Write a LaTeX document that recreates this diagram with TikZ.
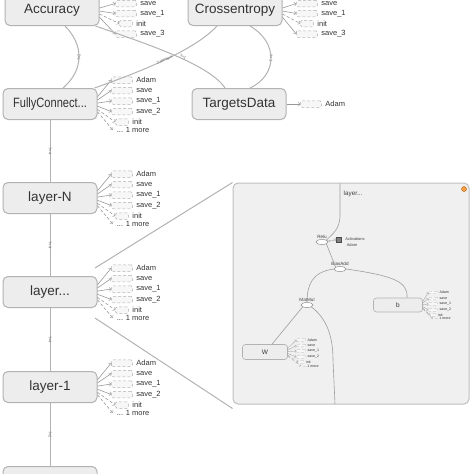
\documentclass[tikz,border=0pt]{standalone}
\usepackage{fontspec}
\setmainfont{Liberation Sans}
\usetikzlibrary{positioning,shapes.geometric}

\tikzset{
  mainbox/.style={draw=black!30, fill=black!7, rounded corners=5pt, line width=1pt,
    minimum width=94pt, minimum height=31pt, text=black!80, font=\fontsize{13.5}{16}\selectfont},
  opbox/.style={draw=black!30, densely dashed, fill=black!3, rounded corners=1.5pt,
    minimum width=21pt, minimum height=6.5pt, inner sep=0pt, line width=0.5pt},
  initbox/.style={opbox, minimum width=13pt},
  morebox/.style={inner sep=0pt, minimum size=0pt, xshift=-9pt},
  oplabel/.style={inner sep=0.5pt, text=black!80, font=\fontsize{7.5}{8}\selectfont},
  opedge/.style={draw=black!40, line width=0.6pt, ->},
  initedge/.style={opedge, densely dashed},
  moreedge/.style={opedge, densely dashed},
  flow/.style={draw=black!30, line width=1pt},
  iflow/.style={draw=black!38, line width=0.6pt},
  elabel/.style={font=\fontsize{4}{4}\selectfont, text=black!60, inner sep=0.3pt, sloped},
  opnode/.style={ellipse, draw=black!45, fill=white, minimum width=12pt, minimum height=5pt,
    inner sep=0pt, line width=0.5pt},
  tinylabel/.style={inner sep=0.3pt, text=black!75, font=\fontsize{4.6}{5}\selectfont},
}

\newcommand{\opstack}[3]{%
  \foreach \dy/\txt/\kind [count=\k] in {#3} {
    \node[\kind box] (#1op\k) at ([shift={(#2,\dy)}]#1.center) {};
    \node[oplabel, right=of #1op\k] (#1lb\k) {\txt};
    \draw[\kind edge] ([shift={(0,0.3*\dy)}]#1.east) -- (#1op\k.west);
  }}

\begin{document}
\begin{tikzpicture}[x=1pt,y=-1pt,node distance=3pt]
\useasboundingbox (0,0) rectangle (474,474);
\node[mainbox] (acc) at (52,10) {Accuracy};
\node[mainbox] (ce) at (235,10) {Crossentropy};
\node[mainbox] (fc) at (50,104) {\scalebox{0.82}[1]{FullyConnect...}};
\node[mainbox] (td) at (239,104) {TargetsData};
\node[mainbox] (ln) at (50,198) {layer-N};
\node[mainbox] (ld) at (50,292) {layer...};
\node[mainbox] (l1) at (50,387) {layer-1};
\node[mainbox] (inp) at (50,482) {};

\opstack{acc}{74}{-6.5/save/op, 3.5/save\_1/op, 13.5/init/init, 24/save\_3/op}
\opstack{ce}{72}{-6.5/save/op, 3.5/save\_1/op, 13.5/init/init, 24/save\_3/op}
\opstack{td}{72}{0/Adam/op}
\opstack{fc}{72}{-24/Adam/op, -13.5/save/op, -3/save\_1/op, 7.5/save\_2/op, 18/init/init, 26/{... 1 more}/more}
\opstack{ln}{72}{-24/Adam/op, -13.5/save/op, -3/save\_1/op, 7.5/save\_2/op, 18/init/init, 26/{... 1 more}/more}
\opstack{ld}{72}{-24/Adam/op, -13.5/save/op, -3/save\_1/op, 7.5/save\_2/op, 18/init/init, 26/{... 1 more}/more}
\opstack{l1}{72}{-24/Adam/op, -13.5/save/op, -3/save\_1/op, 7.5/save\_2/op, 18/init/init, 26/{... 1 more}/more}

\draw[flow] (fc) -- (ln) node[elabel, midway]{?×4};
\draw[flow] (ln) -- (ld) node[elabel, midway]{?×4};
\draw[flow] (ld) -- (l1) node[elabel, midway]{?×4};
\draw[flow] (l1) -- (inp) node[elabel, midway]{?×2};

\draw[flow] ([xshift=13pt]acc.south) .. controls (84,45) and (84,70) .. ([xshift=13pt]fc.north)
  node[elabel, pos=.5]{?×2};
\draw[flow] ([xshift=-4pt]acc.south east) .. controls (150,45) and (210,65) .. ([xshift=-14pt]td.north)
  node[elabel, pos=.55, above]{?×1};
\draw[flow] ([xshift=-3pt]fc.north east) .. controls (140,72) and (195,50) .. ([xshift=-18pt]ce.south)
  node[elabel, pos=.5]{2 tensors};
\draw[flow] ([xshift=15pt]ce.south) .. controls (278,42) and (278,75) .. ([xshift=11pt]td.north)
  node[elabel, pos=.5]{?×1};

\node[draw=black!25, fill=black!6, rounded corners=5pt, line width=1pt,
  minimum width=236pt, minimum height=221pt] (zoom) at (351,293.5) {};
\node[circle, fill=orange!75, draw=orange!60!black, minimum size=5pt, inner sep=0pt, line width=0.3pt] (close) at (464,189) {};
\coordinate (ldup) at (95,268);
\coordinate (lddn) at (95,318);
\draw[flow] (ldup) -- (zoom.north west);
\draw[flow] (lddn) -- ([yshift=-4pt]zoom.south west);

\node[tinylabel, font=\fontsize{6.3}{7}\selectfont] (ltitle) at (353,194) {layer...};
\node[opnode] (relu) at (322,242) {};
\node[tinylabel, above=0.3pt of relu] (relulb) {Relu};
\node[fill=black!50, draw=black!70, minimum size=5pt, inner sep=0pt, line width=0.3pt] (act) at (339,240) {};
\node[tinylabel, font=\fontsize{4}{4}\selectfont] (actlb) at (355,239.5) {Activations};
\node[tinylabel, font=\fontsize{4}{4}\selectfont] (actadam) at (352,245.5) {Adam};
\node[opnode] (biasadd) at (340,269) {};
\node[tinylabel, above=0.3pt of biasadd] (biaslb) {BiasAdd};
\node[opnode] (matmul) at (307,305) {};
\node[tinylabel, above=0.3pt of matmul] (matlb) {MatMul};
\node[mainbox, minimum width=49pt, minimum height=14pt, rounded corners=3pt, line width=0.6pt,
  font=\fontsize{6.5}{7}\selectfont] (bvar) at (398,305) {b};
\node[mainbox, minimum width=45pt, minimum height=15pt, rounded corners=3pt, line width=0.6pt,
  font=\fontsize{6.5}{7}\selectfont] (wvar) at (265,352) {W};

\coordinate (ztop) at (340,183.5);
\coordinate (zbot) at (335,404);
\draw[iflow] (ztop) -- (340,215) .. controls (340,230) and (332,234) .. (relu.north east);
\draw[iflow, densely dashed, ->, line width=0.3pt] (relu.east) -- ([yshift=1pt]act.west);
\draw[iflow, line width=0.3pt] ([yshift=-1pt]act.west) -- (relu.north east);
\draw[iflow] (relu.south east) -- (biasadd.north west);
\draw[iflow] (biasadd.west) .. controls (312,272) and (307,285) .. (matmul.north);
\draw[iflow] (biasadd.east) .. controls (395,276) and (408,282) .. ([xshift=9pt]bvar.north);
\draw[iflow] (matmul.south west) -- ([xshift=7pt]wvar.north);
\draw[iflow] (matmul.south east) .. controls (326,318) and (333,335) .. (333,360) -- (zbot);

\begin{scope}[node distance=1.2pt,
  opbox/.append style={minimum width=9pt, minimum height=2.6pt, line width=0.3pt, rounded corners=0.6pt},
  initbox/.append style={minimum width=6pt},
  morebox/.append style={xshift=9pt},
  oplabel/.append style={font=\fontsize{3.6}{4}\selectfont},
  opedge/.append style={line width=0.3pt}]
\opstack{bvar}{35}{-12.5/Adam/op, -6.5/save/op, -1/save\_1/op, 5/save\_2/op, 10/init/init, 13.5/{... 1 more}/more}
\opstack{wvar}{36}{-12/Adam/op, -6.5/save/op, -1/save\_1/op, 5/save\_2/op, 10/init/init, 14/{... 1 more}/more}
\end{scope}
\end{tikzpicture}
\end{document}
